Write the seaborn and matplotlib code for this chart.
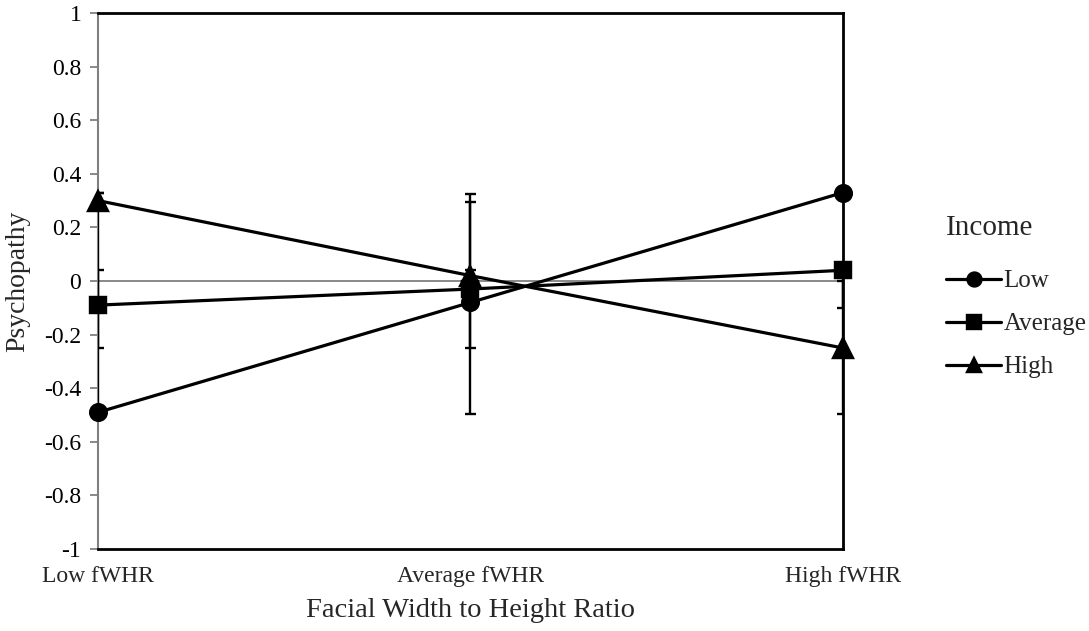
import matplotlib
matplotlib.use("Agg")
import matplotlib.pyplot as plt
import seaborn as sns
import pandas as pd
import numpy as np

categories = ["Low fWHR", "Average fWHR", "High fWHR"]
series = ["Low", "Average", "High"]
low_vals = [-0.49, -0.08, 0.33]
avg_vals = [-0.09, -0.03, 0.04]
high_vals = [0.30, 0.02, -0.25]
# error bar ends (lower, upper)
low_lo = [-0.49, -0.496, 0.33]
low_hi = [0.33, 0.325, 0.33]
avg_lo = [-0.25, -0.10, -0.10]
avg_hi = [0.04, 0.041, 0.04]
high_lo = [0.27, -0.249, -0.496]
high_hi = [0.33, 0.296, 0.0]
yticks = [-1, -0.8, -0.6, -0.4, -0.2, 0, 0.2, 0.4, 0.6, 0.8, 1]
ytick_labels = ["-1", "-0.8", "-0.6", "-0.4", "-0.2", "0", "0.2", "0.4", "0.6", "0.8", "1"]

sns.set_theme(style="white")
plt.rcParams["font.family"] = ["Liberation Serif", "DejaVu Serif"]

df = pd.DataFrame({
    "fWHR": categories * 3,
    "Income": [s for s in series for _ in categories],
    "Psychopathy": low_vals + avg_vals + high_vals,
})

W, H = 1089, 631
ax_l, ax_r, ax_t, ax_b = 98, 843, 13, 549
fig = plt.figure(figsize=(W / 100, H / 100), dpi=100)
ax = fig.add_axes([ax_l / W, 1 - ax_b / H, (ax_r - ax_l) / W, (ax_b - ax_t) / H])

# error bars (clipped to plot area)
pos = np.arange(len(categories))
cap_half = 5.5 / (ax_r - ax_l) * (len(categories) - 1)
for vals, lo, hi in [(low_vals, low_lo, low_hi), (avg_vals, avg_lo, avg_hi), (high_vals, high_lo, high_hi)]:
    lo = np.array(lo)
    hi = np.array(hi)
    ax.vlines(pos, lo, hi, color="black", linewidth=1.7, zorder=2)
    ax.hlines(lo, pos - cap_half, pos + cap_half, color="black", linewidth=1.7, zorder=2)
    ax.hlines(hi, pos - cap_half, pos + cap_half, color="black", linewidth=1.7, zorder=2)

sns.pointplot(data=df, x="fWHR", y="Psychopathy", hue="Income", order=categories,
              hue_order=series, markers=["o", "s", "^"], linestyles=["-", "-", "-"],
              palette=["black"] * 3, errorbar=None, markersize=12, linewidth=2.3,
              ax=ax, zorder=3)

for ln in ax.lines:
    if ln.get_marker() in ("o", "s", "^"):
        ln.set_clip_on(False)
        ln.set_zorder(4)
        if ln.get_marker() == "^":
            ln.set_markersize(14)

ax.axhline(0, color="#808080", linewidth=1.3, zorder=1)
ax.set_xlim(0, len(categories) - 1)
ax.set_ylim(-1, 1)
ax.set_yticks(yticks)
ax.set_yticklabels(ytick_labels)
ax.tick_params(axis="y", which="both", left=True, length=6, width=1.3, color="#808080",
               labelsize=17, pad=6, labelcolor="black", direction="out")
ax.tick_params(axis="x", bottom=False, labelsize=17, pad=6)

for side in ["top", "right", "bottom"]:
    ax.spines[side].set_color("black")
    ax.spines[side].set_linewidth(2)
    ax.spines[side].set_visible(True)
ax.spines["left"].set_color("#808080")
ax.spines["left"].set_linewidth(1.5)
ax.spines["left"].set_zorder(0.5)
ax.grid(False)

ax.set_xlabel("Facial Width to Height Ratio", fontsize=20.5, labelpad=8)
ax.set_ylabel("Psychopathy", fontsize=20, labelpad=10)

handles, labels = ax.get_legend_handles_labels()
for h in handles:
    try:
        h.set_markersize(10)
    except Exception:
        pass
leg = ax.legend(handles, labels, title="Income", loc="upper left",
                bbox_to_anchor=(911 / W, 1 - 180 / H), bbox_transform=fig.transFigure,
                frameon=False, fontsize=18, title_fontsize=21, handlelength=2.2,
                handletextpad=0.1, labelspacing=0.82, borderpad=0.9, alignment="left")
leg._legend_box.sep = 0.82 * 18 + 6

fig.savefig("out.png", dpi=100, facecolor="white")
